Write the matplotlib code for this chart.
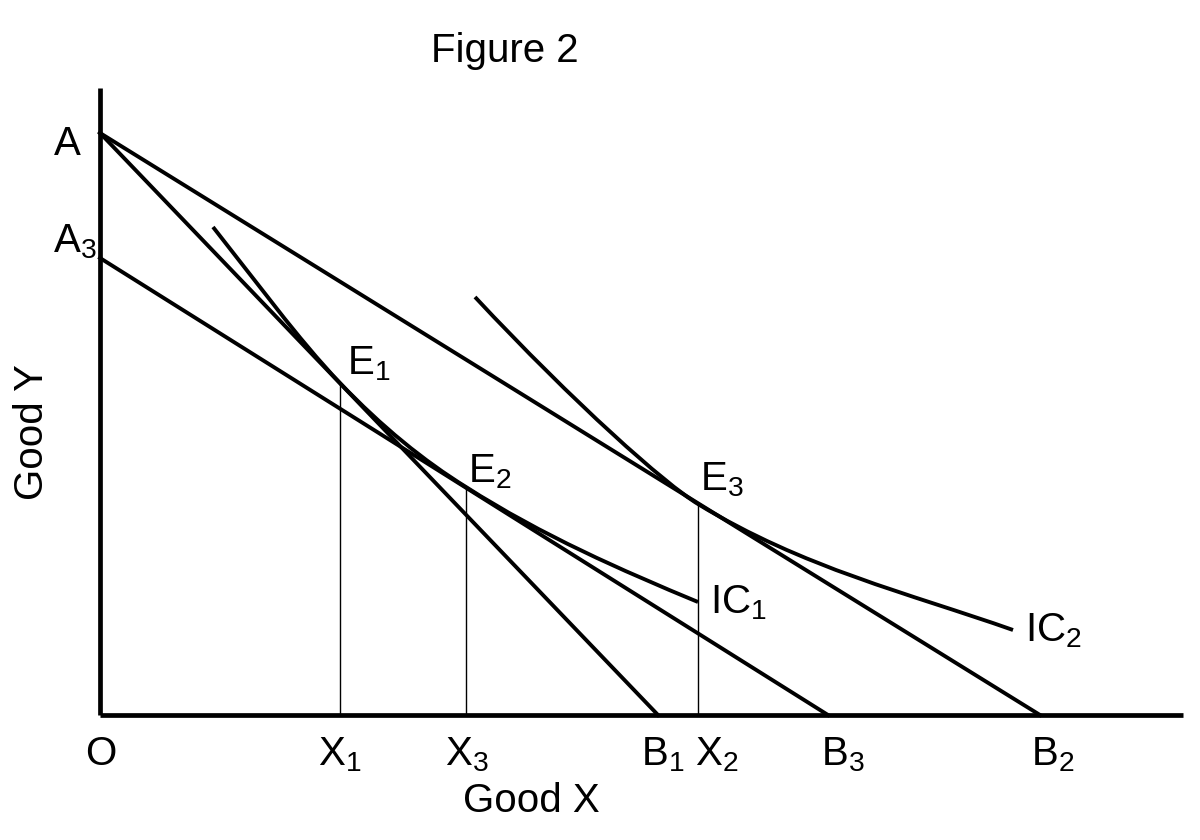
import matplotlib.pyplot as plt
from matplotlib.path import Path
from matplotlib.patches import PathPatch

plt.rcParams['font.family'] = ['Liberation Sans', 'DejaVu Sans']
plt.rcParams['mathtext.default'] = 'regular'

# Key points (units of good X / good Y, origin at O)
A = (0, 582)
A3 = (0, 457)
B1 = (558, 0)
B3 = (728, 0)
B2 = (940, 0)
E1 = (240, 332)
E2 = (366, 228)
E3 = (598, 211)

# axis extents
x_axis_end = 1083
y_axis_end = 627

# indifference curves: bezier anchor / control points
ic1_pts = [(113, 488), (155, 435), (198, 376), E1,
           (282, 288), (324, 254), E2,
           (443, 179), (521, 145), (598, 113)]
ic2_pts = [(375, 418), (475, 311), (565, 231), E3,
           (703, 147), (808, 122), (913, 85)]

# text labels: (text, x, y, ha)
axis_labels = [('O', 1, 'center'), ('X$_1$', 240, 'center'), ('X$_3$', 367, 'center'),
               ('B$_1$', 563, 'center'), ('X$_2$', 617, 'center'),
               ('B$_3$', 743, 'center'), ('B$_2$', 953, 'center')]
point_labels = [('A', -33, 560, 'center'), ('A$_3$', -47, 463, 'left'),
                ('E$_1$', 247, 341, 'left'), ('E$_2$', 368, 233, 'left'),
                ('E$_3$', 600, 225, 'left'), ('IC$_1$', 610, 102, 'left'),
                ('IC$_2$', 925, 74, 'left')]

fig = plt.figure(figsize=(12, 8.4), dpi=100)
ax = fig.add_axes([0, 0, 1, 1])
ax.set_xlim(-100, 1100)
ax.set_ylim(-125, 715)
ax.axis('off')

# axes
ax.plot([0, 0], [0, y_axis_end], color='black', lw=3.4, solid_capstyle='butt')
ax.plot([0, x_axis_end], [0, 0], color='black', lw=3.4, solid_capstyle='butt')

# budget lines
for start, end in [(A, B1), (A, B2), (A3, B3)]:
    ax.plot([start[0], end[0]], [start[1], end[1]], color='black', lw=2.8)

# drop lines from equilibria
for e in [E1, E2, E3]:
    ax.plot([e[0], e[0]], [0, e[1]], color='black', lw=1.0)

# indifference curves
for pts in [ic1_pts, ic2_pts]:
    codes = [Path.MOVETO] + [Path.CURVE4] * (len(pts) - 1)
    ax.add_patch(PathPatch(Path(pts, codes), facecolor='none', edgecolor='black', lw=2.8))

for txt, x, ha in axis_labels:
    ax.text(x, -50, txt, fontsize=29, ha=ha, va='baseline')
for txt, x, y, ha in point_labels:
    ax.text(x, y, txt, fontsize=29, ha=ha, va='baseline')

ax.text(431, -97, 'Good X', fontsize=29, ha='center', va='baseline')
ax.text(-68, 283, 'Good Y', fontsize=29, ha='center', va='center', rotation=90)
ax.text(405, 653, 'Figure 2', fontsize=29, ha='center', va='baseline')

fig.savefig('out.png', dpi=100)
